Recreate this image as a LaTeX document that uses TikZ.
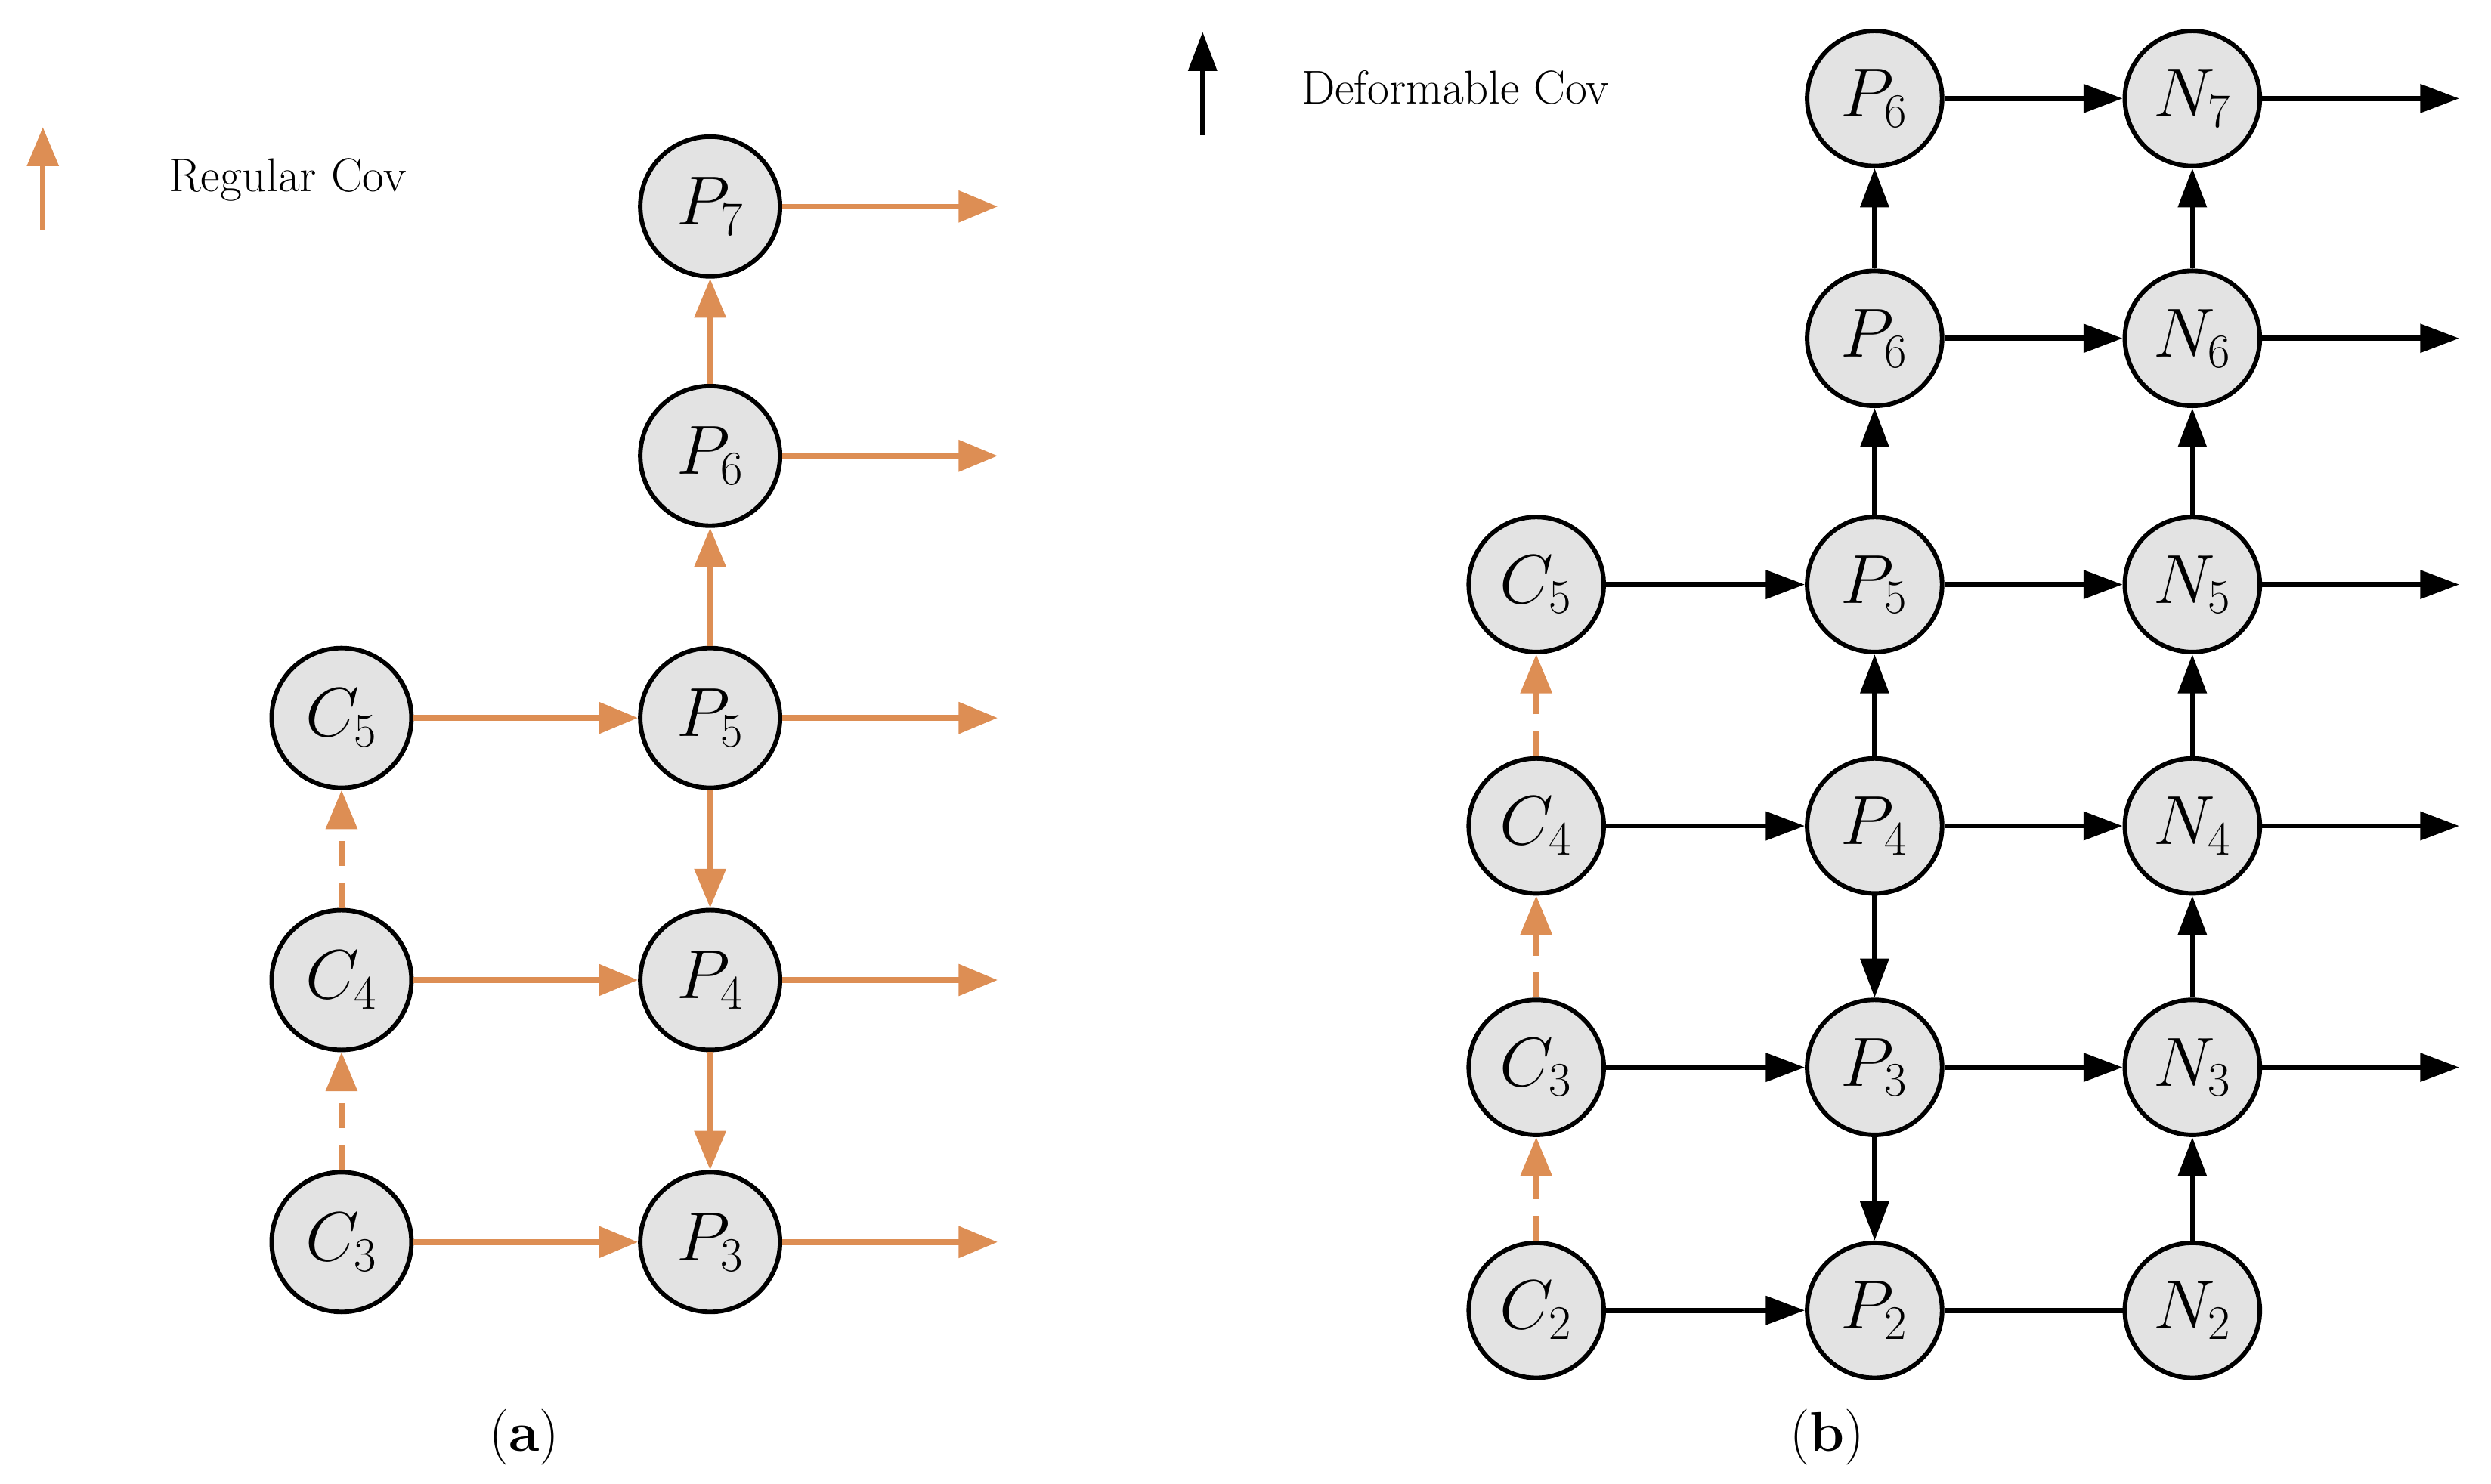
\documentclass[tikz,border=0pt]{standalone}
\usepackage{amsmath}
\usetikzlibrary{arrows.meta}
\definecolor{orng}{RGB}{221,142,84}
\begin{document}
\begin{tikzpicture}[x=0.02cm,y=-0.02cm,
  nd/.style={circle,draw=black,line width=1.6pt,fill=gray!22,minimum size=1.76cm,inner sep=0pt,font=\fontsize{26}{30}\selectfont},
  nb/.style={nd,minimum size=1.7cm},
  oa/.style={draw=orng,line width=2pt,-{Triangle[length=14pt,width=11pt]}},
  od/.style={oa,dashed,dash pattern=on 9pt off 6pt},
  ba/.style={draw=black,line width=1.8pt,-{Triangle[length=14pt,width=10pt]}},
  bl/.style={draw=black,line width=1.8pt},
  lg/.style={font=\fontsize{17}{20}\selectfont,anchor=west},
  sublbl/.style={font=\fontsize{20}{24}\selectfont}]
\useasboundingbox (0,0) rectangle (1568,934);
% (a)
\node[nd] (aC3) at (215,782) {$C_3$};
\node[nd] (aC4) at (215,617) {$C_4$};
\node[nd] (aC5) at (215,452) {$C_5$};
\node[nd] (aP3) at (447,782) {$P_3$};
\node[nd] (aP4) at (447,617) {$P_4$};
\node[nd] (aP5) at (447,452) {$P_5$};
\node[nd] (aP6) at (447,287) {$P_6$};
\node[nd] (aP7) at (447,130) {$P_7$};
\foreach \i in {3,4,5}{\draw[oa] (aC\i) -- (aP\i);}
\foreach \i in {3,...,7}{\coordinate (ao\i) at (628,0 |- aP\i); \draw[oa] (aP\i) -- (ao\i);}
\draw[od] (aC3) -- (aC4);
\draw[od] (aC4) -- (aC5);
\draw[oa] (aP5) -- (aP4);
\draw[oa] (aP4) -- (aP3);
\draw[oa] (aP5) -- (aP6);
\draw[oa] (aP6) -- (aP7);
\coordinate (la1) at (27,145); \coordinate (la2) at (27,80);
\draw[oa] (la1) -- (la2);
\node[lg] (ltA) at (100,113) {Regular Cov};
\node[sublbl] (capA) at (330,905) {(\textbf{a})};
% (b)
\foreach \i/\y in {2/825,3/672,4/520,5/368}{\node[nb] (bC\i) at (967,\y) {$C_\i$};}
\foreach \i/\y in {2/825,3/672,4/520,5/368,6/213}{\node[nb] (bP\i) at (1180,\y) {$P_\i$};}
\node[nb] (bP7) at (1180,62) {$P_6$};
\foreach \i/\y in {2/825,3/672,4/520,5/368,6/213,7/62}{\node[nb] (bN\i) at (1380,\y) {$N_\i$};}
\foreach \i in {2,...,5}{\draw[ba] (bC\i) -- (bP\i);}
\draw[bl] (bP2) -- (bN2);
\foreach \i in {3,...,7}{\draw[ba] (bP\i) -- (bN\i);
  \coordinate (bo\i) at (1548,0 |- bN\i); \draw[ba] (bN\i) -- (bo\i);}
\draw[od] (bC2) -- (bC3);
\draw[od] (bC3) -- (bC4);
\draw[od] (bC4) -- (bC5);
\draw[ba] (bP4) -- (bP3);
\draw[ba] (bP3) -- (bP2);
\draw[ba] (bP4) -- (bP5);
\draw[ba] (bP5) -- (bP6);
\draw[ba] (bP6) -- (bP7);
\foreach \i/\j in {2/3,3/4,4/5,5/6,6/7}{\draw[ba] (bN\i) -- (bN\j);}
\coordinate (lb1) at (757,85); \coordinate (lb2) at (757,20);
\draw[ba] (lb1) -- (lb2);
\node[lg] (ltB) at (813,55) {Deformable Cov};
\node[sublbl] (capB) at (1150,905) {(\textbf{b})};
\end{tikzpicture}
\end{document}
